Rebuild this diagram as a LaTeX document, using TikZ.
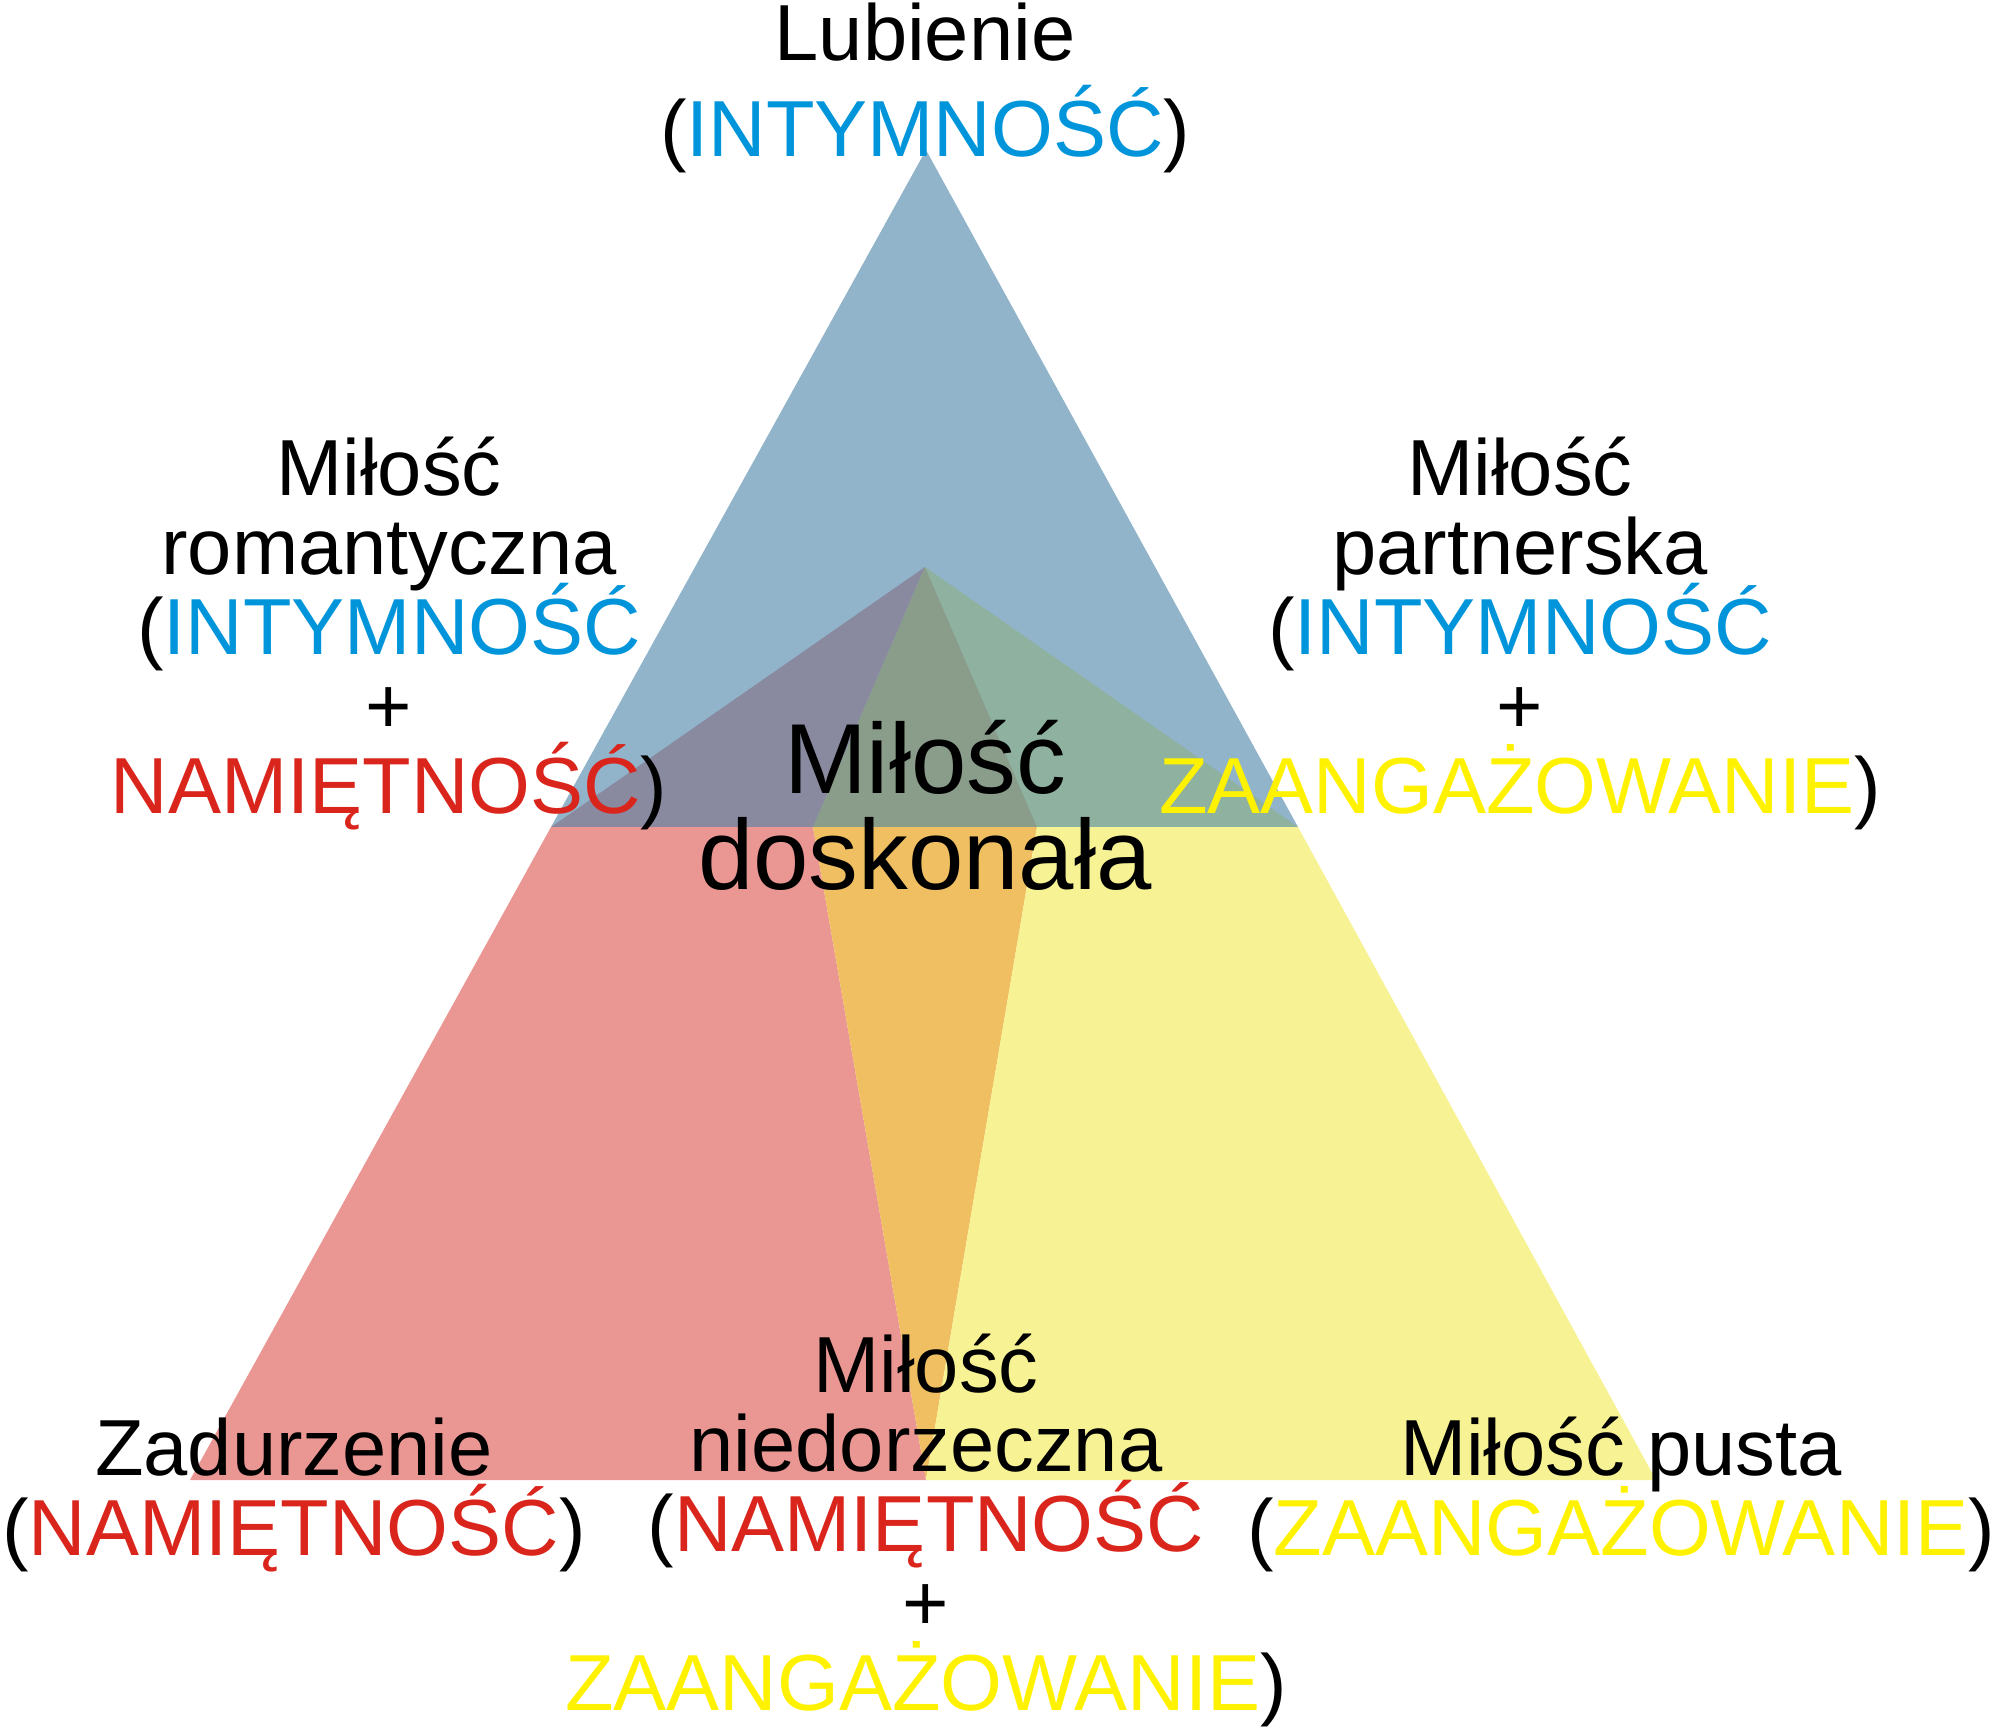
\documentclass[tikz,border=0pt]{standalone}
\usepackage{fontspec}
\setmainfont{Liberation Sans}
\definecolor{regblue}{HTML}{91B4CA}
\definecolor{regpurple}{HTML}{898AA0}
\definecolor{reggreen}{HTML}{8FB2A0}
\definecolor{reggrey}{HTML}{8A9C8A}
\definecolor{regred}{HTML}{EA9794}
\definecolor{regorange}{HTML}{EFBF62}
\definecolor{regyellow}{HTML}{F7F294}
\definecolor{txtblue}{HTML}{0095DA}
\definecolor{txtred}{HTML}{DA251D}
\definecolor{txtyellow}{HTML}{FFF200}
\newcommand{\intyc}[1]{\textcolor{txtblue}{#1}}
\newcommand{\pasc}[1]{\textcolor{txtred}{#1}}
\newcommand{\comc}[1]{\textcolor{txtyellow}{#1}}
\newcommand{\smallfontlines}{\fontsize{28.62}{28.62}\selectfont\lineskiplimit=-100pt\relax\lineskip=0pt\relax}
\newcommand{\topfontlines}{\fontsize{28.62}{34.56}\selectfont\lineskiplimit=-100pt\relax\lineskip=0pt\relax}
\newcommand{\bigfontlines}{\fontsize{35.82}{34.56}\selectfont\lineskiplimit=-100pt\relax\lineskip=0pt\relax}
\begin{document}
\begin{tikzpicture}[x=0.36pt,y=-0.36pt,
  lbl/.style={align=center, anchor=base, inner sep=0pt, font=\smallfontlines},
  toplbl/.style={align=center, anchor=base, inner sep=0pt, font=\topfontlines},
  biglbl/.style={align=center, anchor=base, inner sep=0pt, font=\bigfontlines}]
\useasboundingbox (0,0) rectangle (2000,1727);
% vertices
\coordinate (A) at (926,150);
\coordinate (L) at (190,1480);
\coordinate (R) at (1656,1480);
\coordinate (P) at (925,567);
\coordinate (BL) at (551,827);
\coordinate (BR) at (1298,827);
\coordinate (CL) at (813,827);
\coordinate (CR) at (1037,827);
\coordinate (T) at (926,1480);
% regions
\fill[regblue] (A) -- (BL) -- (BR) -- cycle;
\fill[regpurple] (P) -- (BL) -- (CL) -- cycle;
\fill[reggreen] (P) -- (CR) -- (BR) -- cycle;
\fill[reggrey] (P) -- (CL) -- (CR) -- cycle;
\fill[regred] (BL) -- (CL) -- (T) -- (L) -- cycle;
\fill[regorange] (CL) -- (CR) -- (T) -- cycle;
\fill[regyellow] (CR) -- (BR) -- (R) -- (T) -- cycle;
% labels (anchor = baseline of the last line)
\node[toplbl] (lubienie) at (925,156) {Lubienie\\(\intyc{INTYMNOŚĆ})};
\node[lbl] (romant) at (389,813) {Miłość\\romantyczna\\(\intyc{INTYMNOŚĆ}\\+\\\pasc{NAMIĘTNOŚĆ})};
\node[lbl] (partner) at (1520,813) {Miłość\\partnerska\\(\intyc{INTYMNOŚĆ}\\+\\\comc{ZAANGAŻOWANIE})};
\node[biglbl] (dosk) at (925,889) {Miłość\\doskonała};
\node[lbl] (zadur) at (294,1555) {Zadurzenie\\(\pasc{NAMIĘTNOŚĆ})};
\node[lbl] (niedorz) at (926,1710) {Miłość\\niedorzeczna\\(\pasc{NAMIĘTNOŚĆ}\\+\\\comc{ZAANGAŻOWANIE})};
\node[lbl] (pusta) at (1621,1555) {Miłość pusta\\(\comc{ZAANGAŻOWANIE})};
\end{tikzpicture}
\end{document}
